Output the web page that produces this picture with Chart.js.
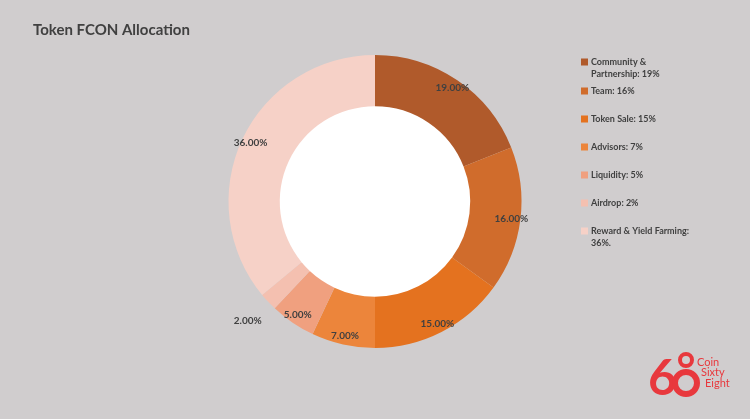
<!DOCTYPE html>
<html>
<head>
<meta charset="utf-8">
<script src="https://cdn.jsdelivr.net/npm/chart.js@4.4.1/dist/chart.umd.min.js"></script>
<style>
  html, body { margin: 0; padding: 0; background: #d0cdce; }
  #wrap { position: relative; width: 750px; height: 419px; }
</style>
</head>
<body>
<div id="wrap"><canvas id="chart" width="750" height="419"></canvas></div>
<script>
const title = 'Token FCON Allocation';
const categories = ['Community & Partnership', 'Team', 'Token Sale', 'Advisors', 'Liquidity', 'Airdrop', 'Reward & Yield Farming'];
const legendLines = [
    ['Community &', 'Partnership: 19%'],
    ['Team: 16%'],
    ['Token Sale: 15%'],
    ['Advisors: 7%'],
    ['Liquidity: 5%'],
    ['Airdrop: 2%'],
    ['Reward & Yield Farming:', '36%.']
];
const shares = [19, 16, 15, 7, 5, 2, 36];
const colors = ['#b05a2b', '#d06c2c', '#e4721f', '#ec853b', '#f0a07f', '#f4c0b0', '#f6d1c7'];

const textColor = '#404040';
const font = 'Lato, "Open Sans", sans-serif';

// white hole, labels, title, legend and logo
const decor = {
    id: 'decor',
    beforeDatasetsDraw(chart) {
        const arc = chart.getDatasetMeta(0).data[0];
        const ctx = chart.ctx;
        ctx.save();
        ctx.fillStyle = '#ffffff';
        ctx.beginPath();
        ctx.arc(arc.x, arc.y, arc.innerRadius + 1, 0, Math.PI * 2);
        ctx.fill();
        ctx.restore();
    },
    afterDatasetsDraw(chart) {
        const ctx = chart.ctx;
        ctx.save();
        ctx.fillStyle = textColor;
        ctx.font = 'bold 10px ' + font;
        ctx.textAlign = 'center';
        ctx.textBaseline = 'middle';
        chart.getDatasetMeta(0).data.forEach((a, i) => {
            const mid = (a.startAngle + a.endAngle) / 2;
            const r = shares[i] < 3 ? a.outerRadius + 28 : a.outerRadius - 9;
            ctx.fillText(shares[i].toFixed(2) + '%', a.x + Math.cos(mid) * r, a.y + Math.sin(mid) * r);
        });

        // title
        ctx.textAlign = 'left';
        ctx.font = 'bold 15px ' + font;
        ctx.fillText(title, 33, 30);

        // legend
        ctx.font = 'bold 9px ' + font;
        const rowY = [62, 91, 119, 147, 175, 203, 231];
        legendLines.forEach((lines, i) => {
            ctx.fillStyle = colors[i];
            ctx.fillRect(581, rowY[i] - 3.5, 7, 7);
            ctx.fillStyle = textColor;
            lines.forEach((t, j) => ctx.fillText(t, 591, rowY[i] + j * 12));
        });

        // logo
        const red = '#e8383d';
        ctx.fillStyle = red;
        ctx.strokeStyle = red;
        ctx.font = 'bold 50px ' + font;
        ctx.textBaseline = 'alphabetic';
        ctx.fillText('6', 648, 395);
        ctx.lineWidth = 4;
        ctx.beginPath();
        ctx.arc(686, 360, 6, 0, Math.PI * 2);
        ctx.stroke();
        ctx.lineWidth = 6;
        ctx.beginPath();
        ctx.arc(686, 383, 11, 0, Math.PI * 2);
        ctx.stroke();
        ctx.font = '11px ' + font;
        ctx.fillText('Coin', 697, 366);
        ctx.fillText('Sixty', 701, 376);
        ctx.fillText('Eight', 705, 387);
        ctx.restore();
    }
};

new Chart(document.getElementById('chart'), {
    type: 'doughnut',
    data: {
        labels: categories,
        datasets: [{
            data: shares,
            backgroundColor: colors,
            borderWidth: 0
        }]
    },
    options: {
        responsive: false,
        animation: false,
        cutout: '65%',
        layout: { padding: { top: 55, bottom: 71, left: 0, right: 0 } },
        plugins: {
            legend: { display: false },
            tooltip: { enabled: false }
        }
    },
    plugins: [decor]
});
</script>
</body>
</html>
